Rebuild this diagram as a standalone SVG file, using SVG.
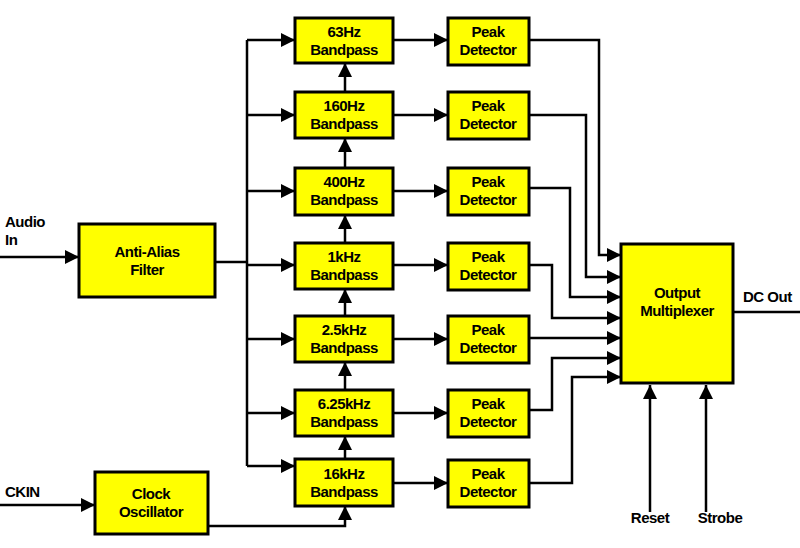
<svg xmlns="http://www.w3.org/2000/svg" width="800" height="548" viewBox="0 0 800 548">
<defs>
<marker id="a" viewBox="0 0 10 10" refX="10" refY="5" markerWidth="14" markerHeight="14" markerUnits="userSpaceOnUse" orient="auto"><path d="M0,0L10,5L0,10Z" fill="#000"/></marker>
</defs>
<style>
.b{fill:#ffff00;stroke:#000;stroke-width:3}
.t{font-family:"Liberation Sans",Arial,sans-serif;font-weight:bold;font-size:15px;text-anchor:middle;fill:#000;letter-spacing:-0.5px}
.l{font-family:"Liberation Sans",Arial,sans-serif;font-weight:bold;font-size:15px;fill:#000;letter-spacing:-0.5px}
.c{fill:none;stroke:#000;stroke-width:2.5}
.m{marker-end:url(#a)}
</style>
<rect width="800" height="548" fill="#fff"/>
<g id="connectors">
<path class="c m" d="M0,257H79"/>
<path class="c m" d="M0,505H95"/>
<path class="c" d="M215,262H247"/>
<path class="c" d="M247,40V466"/>
<path class="c m" d="M247,40H295"/>
<path class="c m" d="M247,115H295"/>
<path class="c m" d="M247,191H295"/>
<path class="c m" d="M247,265H295"/>
<path class="c m" d="M247,339H295"/>
<path class="c m" d="M247,413H295"/>
<path class="c m" d="M247,466H295"/>
<path class="c m" d="M208,526H345V506"/>
<path class="c m" d="M345,459V436"/>
<path class="c m" d="M345,390V362"/>
<path class="c m" d="M345,316V289"/>
<path class="c m" d="M345,243V215"/>
<path class="c m" d="M345,168V138"/>
<path class="c m" d="M345,92V63"/>
<path class="c m" d="M393,40H448"/>
<path class="c m" d="M393,115H448"/>
<path class="c m" d="M393,191H448"/>
<path class="c m" d="M393,265H448"/>
<path class="c m" d="M393,339H448"/>
<path class="c m" d="M393,413H448"/>
<path class="c m" d="M393,483H448"/>
<path class="c m" d="M529,40H599V255H621"/>
<path class="c m" d="M529,115H586V277H621"/>
<path class="c m" d="M529,188H570V297H621"/>
<path class="c m" d="M529,265H552V318H621"/>
<path class="c m" d="M529,338H621"/>
<path class="c m" d="M529,410H552V358H621"/>
<path class="c m" d="M529,483H572V377H621"/>
<path class="c" d="M733,312H800"/>
<path class="c m" d="M650,512V385"/>
<path class="c m" d="M706,512V385"/>
</g>
<g id="aaf"><rect class="b" x="79" y="224" width="136" height="73"/><text class="t" x="147" y="257">Anti-Alias</text><text class="t" x="147" y="275">Filter</text></g>
<g id="osc"><rect class="b" x="95" y="472" width="113" height="62"/><text class="t" x="151" y="499">Clock</text><text class="t" x="151" y="517">Oscillator</text></g>
<g id="bp63"><rect class="b" x="295" y="18" width="98" height="45"/><text class="t" x="344" y="37">63Hz</text><text class="t" x="344" y="55">Bandpass</text></g>
<g id="bp160"><rect class="b" x="295" y="92" width="98" height="46"/><text class="t" x="344" y="111">160Hz</text><text class="t" x="344" y="129">Bandpass</text></g>
<g id="bp400"><rect class="b" x="295" y="168" width="98" height="47"/><text class="t" x="344" y="187">400Hz</text><text class="t" x="344" y="205">Bandpass</text></g>
<g id="bp1k"><rect class="b" x="295" y="243" width="98" height="46"/><text class="t" x="344" y="262">1kHz</text><text class="t" x="344" y="280">Bandpass</text></g>
<g id="bp2k5"><rect class="b" x="295" y="316" width="98" height="46"/><text class="t" x="344" y="335">2.5kHz</text><text class="t" x="344" y="353">Bandpass</text></g>
<g id="bp6k25"><rect class="b" x="295" y="390" width="98" height="46"/><text class="t" x="344" y="409">6.25kHz</text><text class="t" x="344" y="427">Bandpass</text></g>
<g id="bp16k"><rect class="b" x="295" y="459" width="98" height="47"/><text class="t" x="344" y="479">16kHz</text><text class="t" x="344" y="497">Bandpass</text></g>
<g id="pd1"><rect class="b" x="448" y="18" width="81" height="47"/><text class="t" x="488" y="37">Peak</text><text class="t" x="488" y="55">Detector</text></g>
<g id="pd2"><rect class="b" x="448" y="92" width="81" height="47"/><text class="t" x="488" y="111">Peak</text><text class="t" x="488" y="129">Detector</text></g>
<g id="pd3"><rect class="b" x="448" y="168" width="81" height="47"/><text class="t" x="488" y="187">Peak</text><text class="t" x="488" y="205">Detector</text></g>
<g id="pd4"><rect class="b" x="448" y="243" width="81" height="47"/><text class="t" x="488" y="262">Peak</text><text class="t" x="488" y="280">Detector</text></g>
<g id="pd5"><rect class="b" x="448" y="316" width="81" height="47"/><text class="t" x="488" y="335">Peak</text><text class="t" x="488" y="353">Detector</text></g>
<g id="pd6"><rect class="b" x="448" y="390" width="81" height="47"/><text class="t" x="488" y="409">Peak</text><text class="t" x="488" y="427">Detector</text></g>
<g id="pd7"><rect class="b" x="448" y="460" width="81" height="47"/><text class="t" x="488" y="479">Peak</text><text class="t" x="488" y="497">Detector</text></g>
<g id="mux"><rect class="b" x="621" y="244" width="112" height="139"/><text class="t" x="677" y="298">Output</text><text class="t" x="677" y="316">Multiplexer</text></g>
<g id="labels">
<text class="l" x="5" y="227">Audio</text><text class="l" x="5" y="245">In</text>
<text class="l" x="5" y="497">CKIN</text>
<text class="l" x="743" y="302">DC Out</text>
<text class="t" x="650" y="523">Reset</text>
<text class="t" x="720" y="523">Strobe</text>
</g>
</svg>
